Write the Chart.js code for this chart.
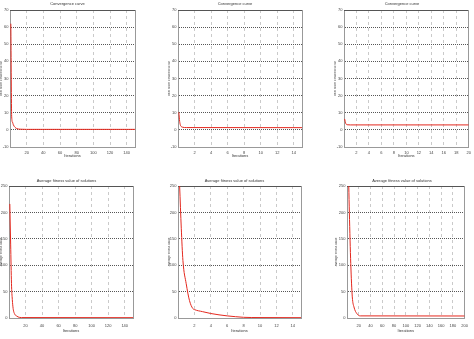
<!DOCTYPE html>
<html>
<head>
<meta charset="utf-8">
<script src="https://cdn.jsdelivr.net/npm/chart.js@4.4.0/dist/chart.umd.min.js"></script>
<style>
  body { margin: 0; background: #fff; width: 474px; height: 339px; position: relative; overflow: hidden; }
  canvas { position: absolute; }
</style>
</head>
<body>
<canvas id="bestA"></canvas>
<canvas id="bestB"></canvas>
<canvas id="bestC"></canvas>
<canvas id="avgA"></canvas>
<canvas id="avgB"></canvas>
<canvas id="avgC"></canvas>
<script>
// Top row: convergence curves (best score so far)
const bestAIter = [1, 2, 3, 4, 6, 8, 12, 20, 150];
const bestAVal = [62, 8, 4.5, 3, 1.5, 0.8, 0.4, 0.3, 0.3];
const bestBIter = [0.1, 0.2, 0.3, 0.4, 0.6, 1, 15];
const bestBVal = [10.3, 5, 2.6, 1.9, 1.5, 1.35, 1.3];
const bestCIter = [0.1, 0.2, 0.3, 0.5, 1, 20];
const bestCVal = [6.4, 4.8, 3.6, 3.0, 2.9, 2.9];

// Bottom row: average fitness of the population
const avgAIter = [1, 2, 3, 4, 5, 7, 9, 11, 15, 150];
const avgAVal = [216, 140, 65, 35, 18, 7, 4, 2, 0.8, 0.6];
const avgBIter = [0.2, 0.4, 0.6, 1.0, 1.4, 1.8, 2.0, 3, 4, 5, 6, 7, 8, 10, 15];
const avgBVal = [250, 170, 109, 65, 33, 18, 16, 12, 8.5, 6, 4, 2.5, 1.3, 0.8, 0.6];
const avgCIter = [3, 4, 6.4, 9, 11.8, 17, 22.5, 200];
const avgCVal = [250, 200, 103, 40, 21, 8, 4, 3.8];

// Tick labels
const ticks150 = [20, 40, 60, 80, 100, 120, 140];
const ticks15 = [2, 4, 6, 8, 10, 12, 14];
const ticks20 = [2, 4, 6, 8, 10, 12, 14, 16, 18, 20];
const ticks200 = [20, 40, 60, 80, 100, 120, 140, 160, 180, 200];
const bestYTicks = [-10, 0, 10, 20, 30, 40, 50, 60, 70];
const avgYTicks = [0, 50, 100, 150, 200, 250];

const FONT = "'Liberation Sans Narrow', 'Liberation Sans', sans-serif";
const RED = 'rgb(228, 40, 30)';

function panel(id, box, xs, ys, cfg) {
  const cv = document.getElementById(id);
  cv.width = box.w;
  cv.height = box.h;
  cv.style.left = box.left + 'px';
  cv.style.top = box.top + 'px';

  const tickFont = { family: FONT, size: 4 };
  const fixedTicks = (vals) => (s) => { s.ticks = vals.map((v) => ({ value: v })); };

  return new Chart(cv, {
    type: 'line',
    data: {
      datasets: [{
        data: xs.map((x, i) => ({ x, y: ys[i] })),
        borderColor: RED,
        borderWidth: 1,
        pointRadius: 0,
        cubicInterpolationMode: 'monotone',
        fill: false,
      }],
    },
    options: {
      responsive: false,
      animation: false,
      layout: { padding: { left: 0, right: box.padR, top: 0, bottom: 0 } },
      plugins: {
        legend: { display: false },
        tooltip: { enabled: false },
        title: {
          display: true,
          text: cfg.title,
          color: '#333',
          font: { family: FONT, size: 4, lineHeight: 1, weight: 'normal' },
          padding: { top: box.titleTop, bottom: 10 - 4 - box.titleTop },
        },
      },
      scales: {
        x: {
          type: 'linear',
          min: 0,
          max: cfg.xMax,
          afterBuildTicks: fixedTicks(cfg.xTicks),
          afterFit: (s) => { s.height = box.xAxisH; },
          grid: { color: '#bdbdbd', lineWidth: 0.8, drawTicks: false },
          border: { display: true, color: '#999', dash: [3, 3] },
          ticks: { font: tickFont, color: '#444', padding: box.tickPad, maxRotation: 0, autoSkip: false },
          title: { display: true, text: 'Iterations', color: '#333', font: { family: FONT, size: 4, lineHeight: 1 }, padding: { top: 0, bottom: 1 } },
        },
        y: {
          type: 'linear',
          min: cfg.yTicks[0],
          max: cfg.yTicks[cfg.yTicks.length - 1],
          afterBuildTicks: fixedTicks(cfg.yTicks),
          afterFit: (s) => { s.width = box.yAxisW; },
          grid: { color: '#444', lineWidth: 0.9, drawTicks: false },
          border: { display: true, color: '#999', dash: [1, 1] },
          ticks: { font: tickFont, color: '#444', padding: 1.5, autoSkip: false },
          title: { display: true, text: cfg.yLabel, color: '#555', font: { family: FONT, size: 3, lineHeight: 1 }, padding: 0 },
        },
        xTop: {
          type: 'linear',
          position: 'top',
          afterFit: (s) => { s.height = 0; },
          grid: { display: false, drawTicks: false },
          ticks: { display: false },
          border: { display: true, color: '#555' },
        },
        yRight: {
          type: 'linear',
          position: 'right',
          afterFit: (s) => { s.width = 0; },
          grid: { display: false, drawTicks: false },
          ticks: { display: false },
          border: { display: true, color: '#999' },
        },
      },
    },
  });
}

const topRow = { top: 0, h: 159, xAxisH: 12, tickPad: 3, titleTop: 2 };
const botRow = { top: 176, h: 158, xAxisH: 16, tickPad: 5, titleTop: 3 };

const bestCfg = { title: 'Convergence curve', yLabel: 'Best score obtained so far', yTicks: bestYTicks };
const avgCfg = { title: 'Average fitness value of solutions', yLabel: 'Average fitness value', yTicks: avgYTicks };

panel('bestA', { ...topRow, left: 0, w: 139, yAxisW: 10, padR: 4 }, bestAIter, bestAVal, { ...bestCfg, xMax: 150, xTicks: ticks150 });
panel('bestB', { ...topRow, left: 168, w: 138, yAxisW: 10, padR: 4 }, bestBIter, bestBVal, { ...bestCfg, xMax: 15, xTicks: ticks15 });
panel('bestC', { ...topRow, left: 334, w: 140, yAxisW: 10, padR: 4 }, bestCIter, bestCVal, { ...bestCfg, xMax: 20, xTicks: ticks20 });

panel('avgA', { ...botRow, left: 0, w: 137, yAxisW: 9, padR: 4 }, avgAIter, avgAVal, { ...avgCfg, xMax: 150, xTicks: ticks150 });
panel('avgB', { ...botRow, left: 168, w: 137, yAxisW: 10, padR: 4 }, avgBIter, avgBVal, { ...avgCfg, xMax: 15, xTicks: ticks15 });
panel('avgC', { ...botRow, left: 335, w: 138, yAxisW: 12, padR: 4 }, avgCIter, avgCVal, { ...avgCfg, xMax: 200, xTicks: ticks200 });
</script>
</body>
</html>
